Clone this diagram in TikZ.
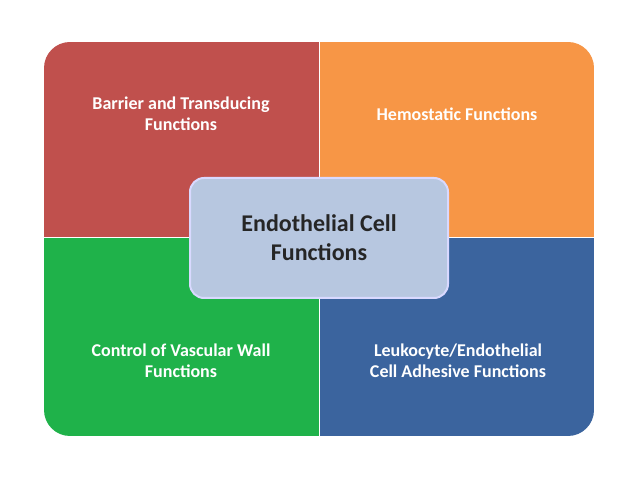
\documentclass[tikz,border=0pt]{standalone}
\usepackage{fontspec}
\setmainfont{Carlito}
\begin{document}
\begin{tikzpicture}[x=1pt,y=-1pt,
  quad/.style={text=white,font=\bfseries\fontsize{18}{21}\selectfont,align=center},
  center/.style={draw=white!85!blue,line width=2pt,fill=cbox,rounded corners=14,minimum width=258,minimum height=120,align=center,text=black!85,font=\bfseries\fontsize{24}{29}\selectfont}]
\definecolor{cred}{HTML}{C0504D}
\definecolor{corange}{HTML}{F79646}
\definecolor{cgreen}{HTML}{1FB24A}
\definecolor{cblue}{HTML}{3B649E}
\definecolor{cbox}{HTML}{B7C7E0}
\useasboundingbox (0,0) rectangle (638,478);
\fill[white] (0,0) rectangle (638,478);
\begin{scope}
\clip[rounded corners=26] (44,42) rectangle (594,436);
\fill[cred] (44,42) rectangle (319,238);
\fill[corange] (319,42) rectangle (594,238);
\fill[cgreen] (44,238) rectangle (319,436);
\fill[cblue] (319,238) rectangle (594,436);
\draw[white,line width=1pt] (319,42) -- (319,436) (44,238) -- (594,238);
\end{scope}
\node[quad] (tl) at (181,114) {Barrier and Transducing\\Functions};
\node[quad] (tr) at (457,114) {Hemostatic Functions};
\node[quad] (bl) at (181,361) {Control of Vascular Wall\\Functions};
\node[quad] (br) at (458,361) {Leukocyte/Endothelial\\Cell Adhesive Functions};
\node[center] (c) at (319,238) {Endothelial Cell\\Functions};
\end{tikzpicture}
\end{document}
